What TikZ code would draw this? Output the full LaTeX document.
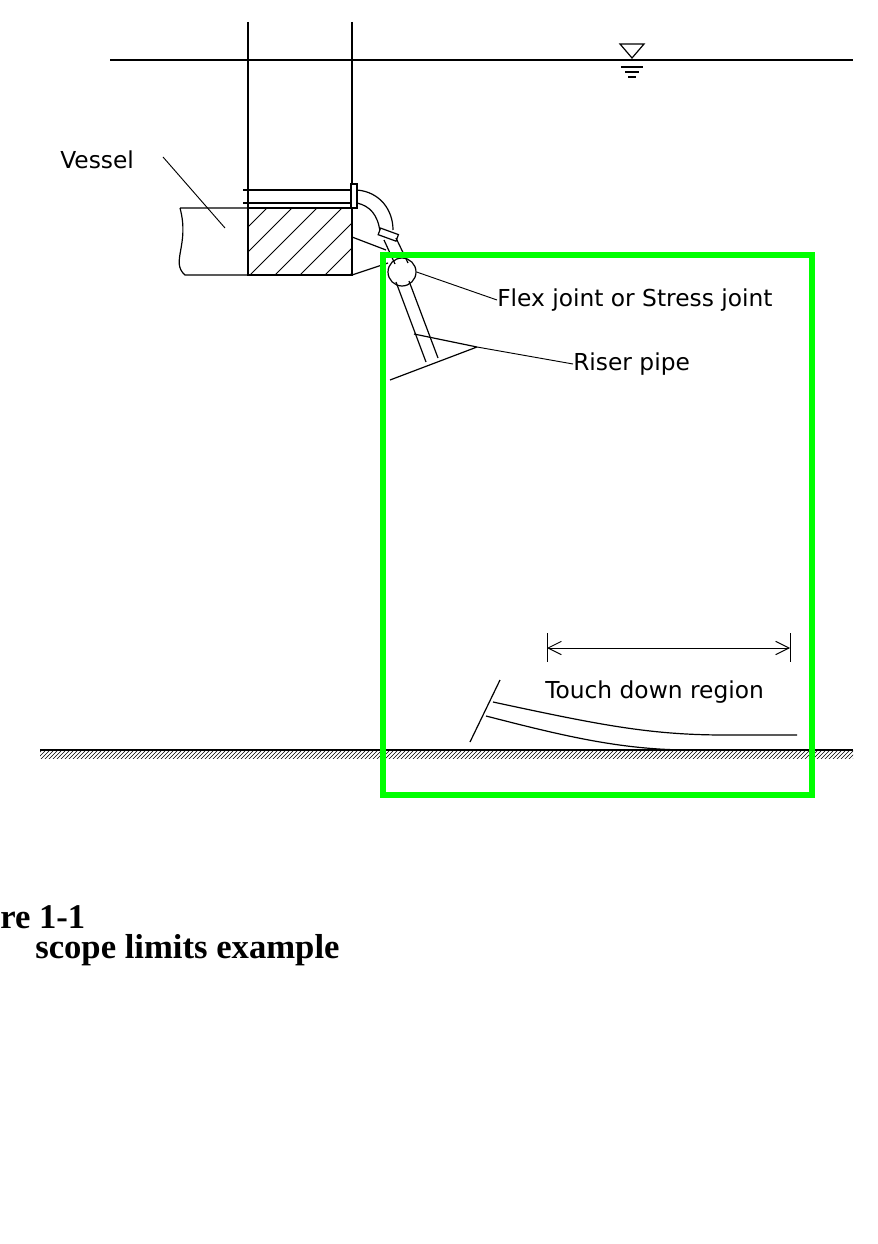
\documentclass[tikz,border=0pt]{standalone}
\usepackage{fontspec}
\setmainfont{Liberation Serif}
\newfontfamily\labelfont{DejaVu Sans}
\usetikzlibrary{patterns,arrows.meta}
\tikzset{
	thinline/.style={line width=0.9pt},
	leader/.style={line width=0.7pt},
	lbl/.style={font=\labelfont\fontsize{17.5}{20}\selectfont, inner sep=0pt},
	captext/.style={font=\bfseries\fontsize{26}{30}\selectfont, inner sep=0pt, anchor=west}
}
\begin{document}
\begin{tikzpicture}[x=0.75pt,y=-0.75pt]
	\useasboundingbox (0,0) rectangle (877,1244);
	% water line and symbol
	\draw[thinline] (110,60) -- (853,60);
	\draw[thinline] (632,58) -- (620,44) -- (644,44) -- cycle;
	\draw[thinline] (621,67) -- (643,67) (625,72) -- (639,72) (628,77) -- (636,77);
	% vessel
	\draw[thinline] (248,22) -- (248,275) (352,22) -- (352,186);
	\draw[thinline] (243,190) -- (352,190) (243,203) -- (352,203);
	\draw[thinline] (180,208) -- (352,208) -- (352,275) -- (185,275)
		.. controls (170,262) and (190,245) .. (180,208);
	\begin{scope}
		\clip (248,208) rectangle (352,275);
		\foreach \hx in {150,175,...,375}
			\draw[leader] (\hx,275) -- ++(75,-75);
	\end{scope}
	\draw[thinline] (248,208) rectangle (352,275);
	\draw[thinline, fill=white] (351,184) rectangle (357,208);
	% bend and riser
	\draw[thinline] (357,190) .. controls (380,192) and (393,210) .. (393,230);
	\draw[thinline] (357,203) .. controls (370,206) and (378,215) .. (380,232);
	\draw[thinline, fill=white, rotate around={-20:(388,234)}] (379,231) rectangle (398,238);
	\draw[thinline] (384,240) -- (395,264) (396,238) -- (408,263);
	\draw[thinline] (352,237) -- (386,250) (352,275) -- (388,263);
	\node (flex) [draw, thinline, circle, minimum size=21pt, inner sep=0pt] at (402,272) {};
	\draw[thinline] (396,282) -- (426,362) (409,281) -- (438,358);
	\draw[thinline] (390,380) -- (477,347) (414,334) -- (477,347);
	% labels
	\node (vessel) [lbl, anchor=west] at (60,160) {Vessel};
	\draw[leader] (163,157) -- (225,228);
	\node (flexlbl) [lbl, anchor=west] at (497,300) {Flex joint or Stress joint};
	\draw[leader] (flex.east) -- (flexlbl.west);
	\node (riser) [lbl, anchor=west] at (573,364) {Riser pipe};
	\draw[leader] (477,347) -- (riser.west);
	% touch down region
	\draw[leader] (547,633) -- (547,662) (790,633) -- (790,662);
	\draw[leader, {Straight Barb[length=10pt,width=10pt]}-{Straight Barb[length=10pt,width=10pt]}] (547,648) -- (790,648);
	\node (tdr) [lbl, anchor=west] at (545,692) {Touch down region};
	\draw[thinline] (470,742) -- (500,680);
	\draw[thinline] (493,702) .. controls (600,725) and (650,735) .. (725,735) -- (797,735);
	\draw[thinline] (486,716) .. controls (560,735) and (620,750) .. (690,750);
	% seabed
	\fill[pattern=north east lines] (40,750) rectangle (853,758);
	\draw[thinline] (40,750) -- (853,750);
	% scope box
	\draw[green, line width=4pt] (383,255) rectangle (812,795);
	% caption
	\node (capa) [captext] at (0,917) {re 1-1};
	\node (capb) [captext] at (35,950) {scope limits example};
\end{tikzpicture}
\end{document}
